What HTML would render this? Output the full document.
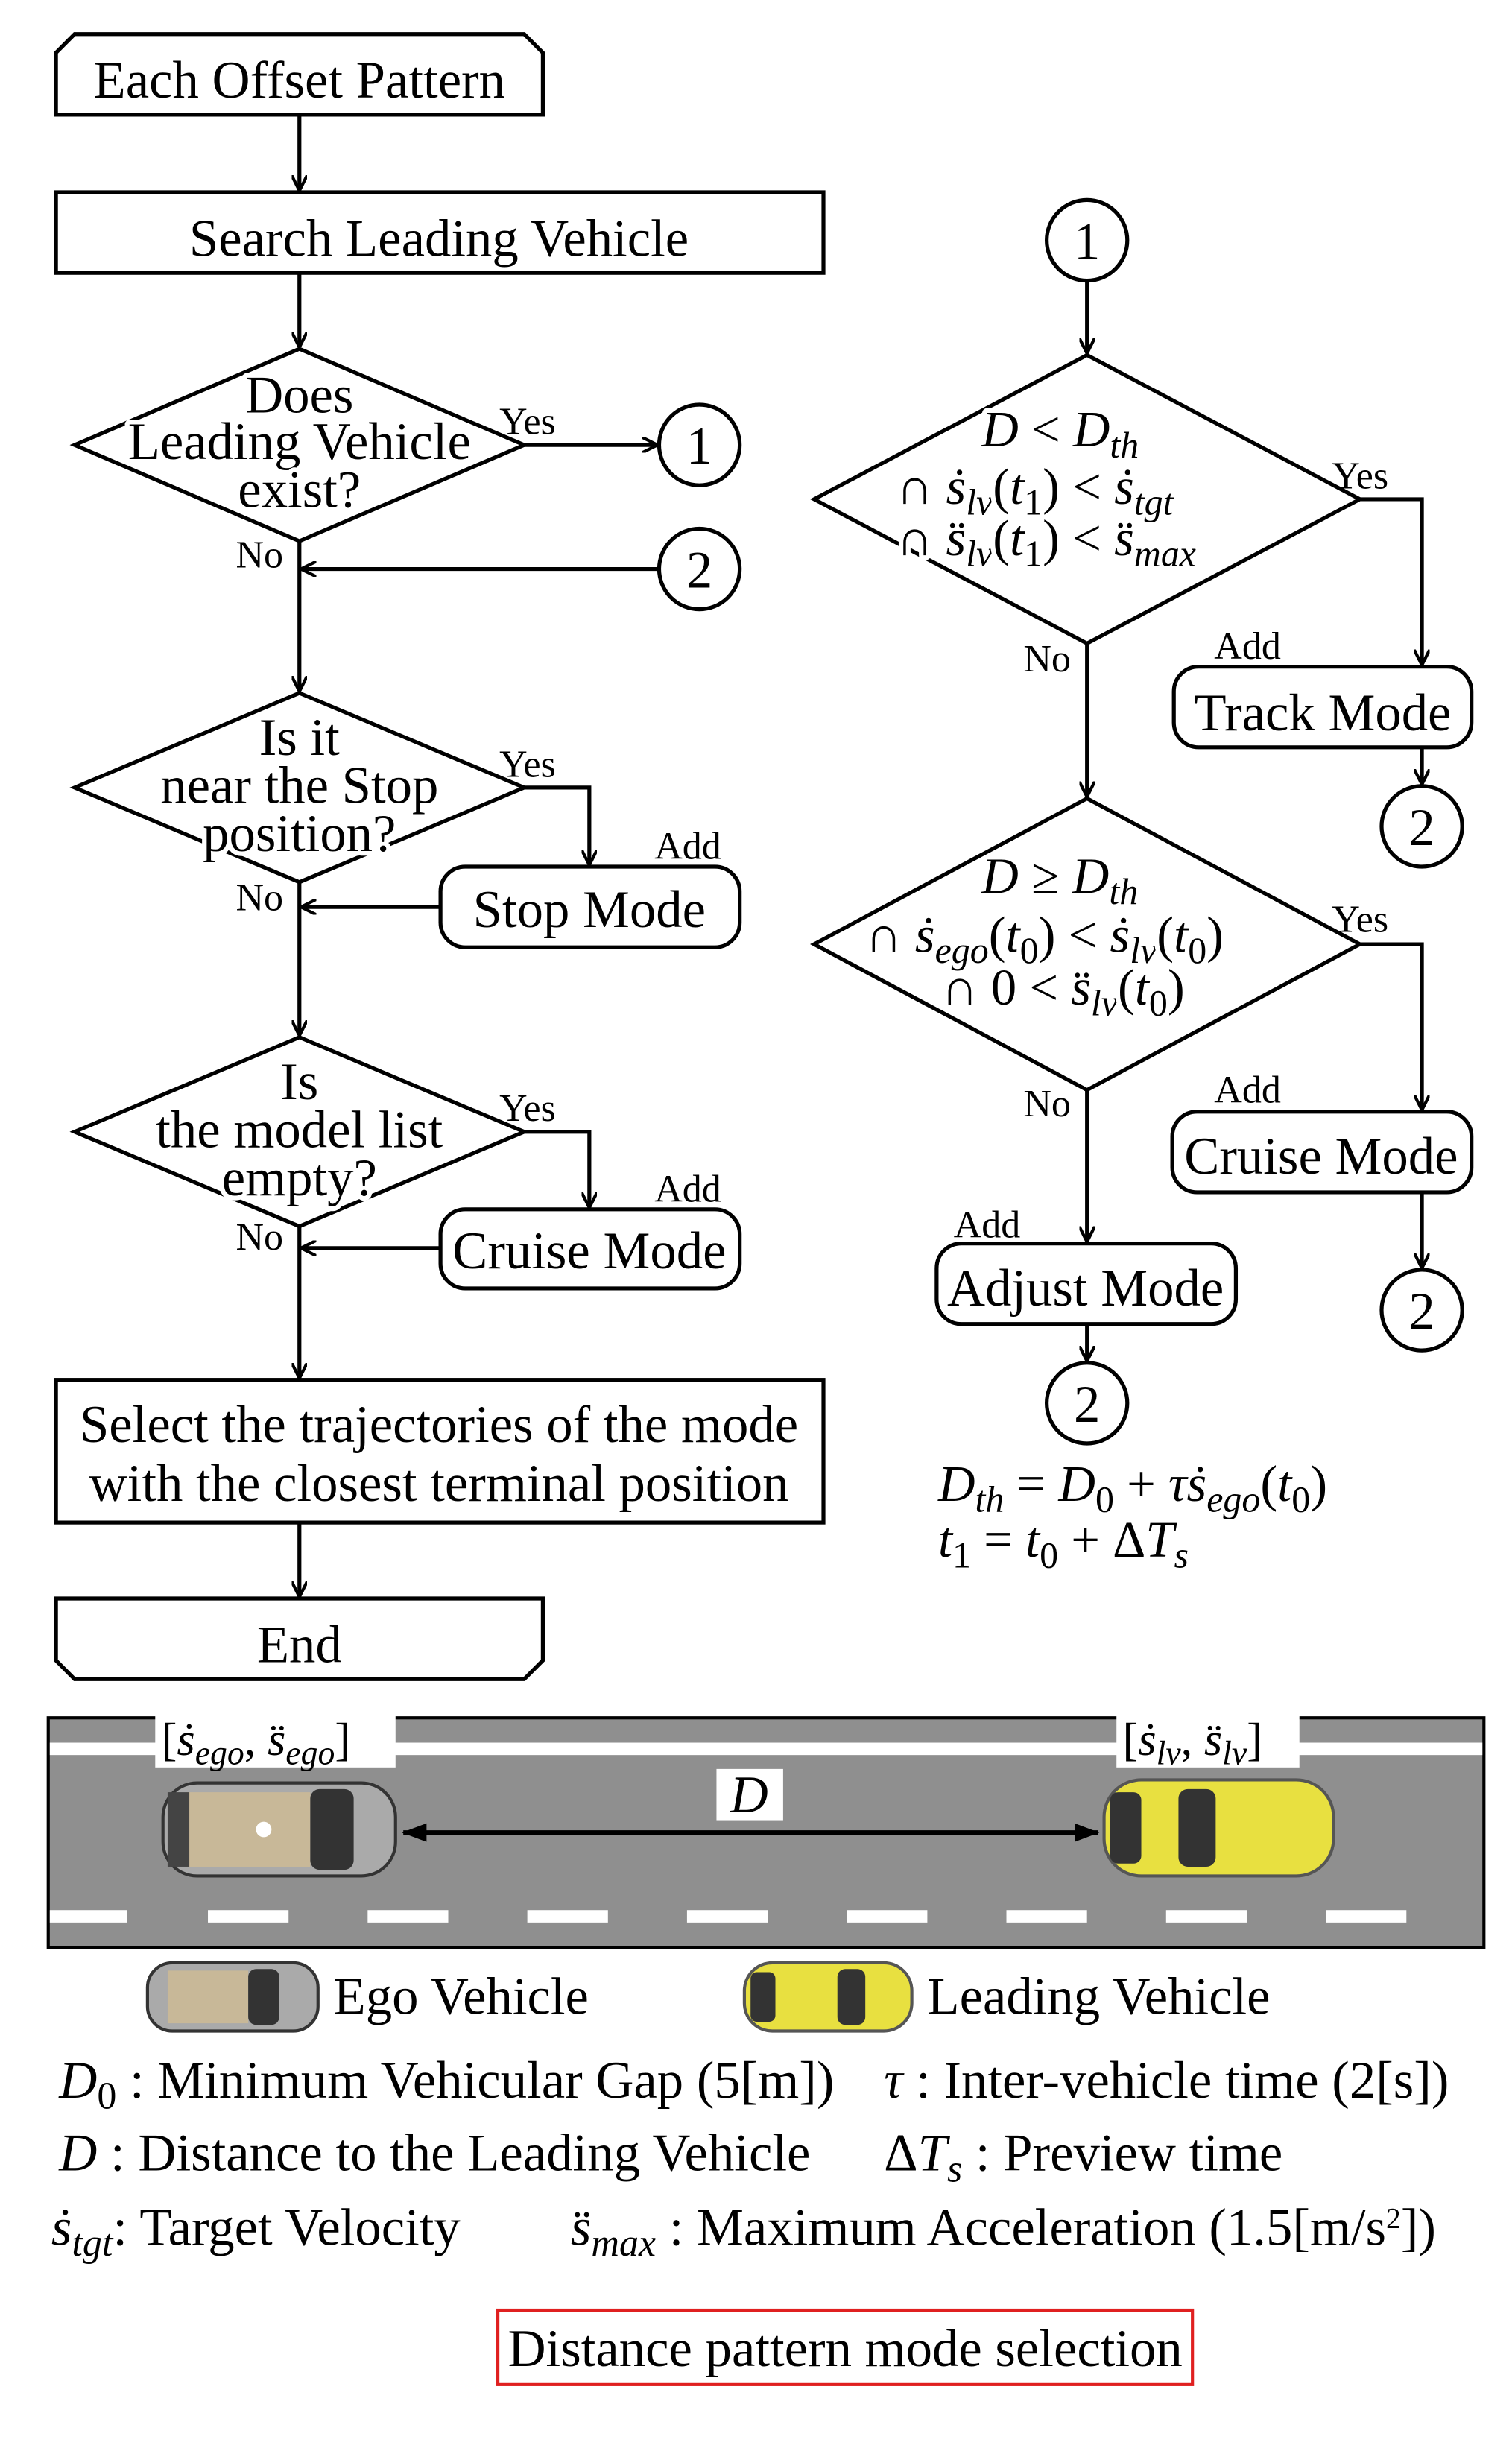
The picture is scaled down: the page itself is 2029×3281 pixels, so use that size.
<!DOCTYPE html>
<html><head><meta charset="utf-8"><style>
html,body{margin:0;padding:0;background:#fff}
svg{display:block}
text{font-family:"Liberation Serif",serif;fill:#000}
.t{font-size:34px;text-anchor:middle}
.s{font-size:25px}
.m{font-style:italic}
.h{paint-order:stroke;stroke:#fff;stroke-width:6px;stroke-linejoin:round}
</style></head><body>
<svg width="2029" height="3281" viewBox="0 0 975 1577" xmlns="http://www.w3.org/2000/svg">
<defs><marker id="a" markerWidth="10" markerHeight="10" refX="9" refY="5" orient="auto" markerUnits="userSpaceOnUse" viewBox="0 0 10 10"><path d="M0,0 L10,5 L0,10" fill="none" stroke="#000" stroke-width="2"/></marker>
<marker id="b" markerWidth="16" markerHeight="12" refX="15" refY="6" orient="auto-start-reverse" markerUnits="userSpaceOnUse"><path d="M0,0 L16,6 L0,12 z" fill="#000"/></marker></defs>
<g fill="none" stroke="#000" stroke-width="2.5">
<path d="M48,22 H338 L350,34 V74 H36 V34 Z" fill="#fff"/>
<rect x="36" y="124" width="495" height="52"/>
<path d="M193,225 L338,287 L193,349 L48,287 Z"/>
<path d="M193,447 L338,508 L193,569 L48,508 Z"/>
<path d="M193,669 L338,730 L193,791 L48,730 Z"/>
<rect x="284" y="559" width="193" height="52" rx="16"/>
<rect x="284" y="780" width="193" height="51" rx="16"/>
<rect x="36" y="890" width="495" height="92"/>
<path d="M36,1031 H350 V1071 L338,1083 H48 L36,1071 Z"/>
<circle cx="451" cy="287" r="26"/><circle cx="451" cy="367" r="26"/>
<circle cx="701" cy="155" r="26"/>
<path d="M701,229 L877,322 L701,415 L525,322 Z"/>
<path d="M701,515 L877,609 L701,703 L525,609 Z"/>
<rect x="757" y="430" width="192" height="52" rx="16"/>
<rect x="756" y="717" width="193" height="52" rx="16"/>
<rect x="604" y="802" width="193" height="52" rx="16"/>
<circle cx="917" cy="533" r="26"/><circle cx="917" cy="845" r="26"/><circle cx="701" cy="905" r="26"/>
</g>
<g fill="none" stroke="#000" stroke-width="2.5" marker-end="url(#a)">
<path d="M193,74 V122"/><path d="M193,176 V223"/>
<path d="M338,287 H423"/><path d="M193,349 V445"/><path d="M425,367 H195"/>
<path d="M338,508 H380 V557"/><path d="M284,585 H195"/><path d="M193,569 V667"/>
<path d="M338,730 H380 V778"/><path d="M284,805 H195"/><path d="M193,791 V888"/>
<path d="M193,982 V1029"/>
<path d="M701,181 V227"/><path d="M877,322 H917 V428"/><path d="M917,482 V505"/>
<path d="M701,415 V513"/><path d="M877,609 H917 V715"/><path d="M917,769 V817"/>
<path d="M701,703 V800"/><path d="M701,854 V877"/>
</g>
<text class="t" x="193" y="63">Each Offset Pattern</text>
<text class="t" x="283" y="165">Search Leading Vehicle</text>
<g class="h">
<text class="t" x="193" y="266">Does</text><text class="t" x="193" y="296">Leading Vehicle</text><text class="t" x="193" y="327">exist?</text>
<text class="t" x="193" y="487">Is it</text><text class="t" x="193" y="518">near the Stop</text><text class="t" x="193" y="549">position?</text>
<text class="t" x="193" y="709">Is</text><text class="t" x="193" y="740">the model list</text><text class="t" x="193" y="771">empty?</text>
</g>
<text class="t" x="451" y="299">1</text><text class="t" x="451" y="379">2</text>
<text class="t" x="380" y="598">Stop Mode</text><text class="t" x="380" y="818">Cruise Mode</text>
<text class="t" x="283" y="930">Select the trajectories of the mode</text>
<text class="t" x="283" y="968">with the closest terminal position</text>
<text class="t" x="193" y="1072">End</text>
<g class="s">
<text x="322" y="280">Yes</text><text x="152" y="366">No</text>
<text x="322" y="501">Yes</text><text x="152" y="587">No</text><text x="422" y="554">Add</text>
<text x="322" y="723">Yes</text><text x="152" y="806">No</text><text x="422" y="775">Add</text>
<text x="859" y="315">Yes</text><text x="660" y="433">No</text><text x="783" y="425">Add</text>
<text x="859" y="601">Yes</text><text x="660" y="720">No</text><text x="783" y="711">Add</text>
<text x="615" y="798">Add</text>
</g>
<text class="t" x="701" y="167">1</text>
<text class="t" x="917" y="545">2</text><text class="t" x="917" y="857">2</text><text class="t" x="701" y="917">2</text>
<text class="t" x="853" y="471">Track Mode</text>
<text class="t" x="852" y="757">Cruise Mode</text>
<text class="t" x="700" y="842">Adjust Mode</text>
<g style="font-size:33px" class="h">
<text x="633" y="288"><tspan class="m">D</tspan> &lt; <tspan class="m">D</tspan><tspan class="m" font-size="24" dy="7">th</tspan></text>
<text x="578" y="325">∩ <tspan class="m">ṡ</tspan><tspan class="m" font-size="24" dy="7">lv</tspan><tspan dy="-7">(</tspan><tspan class="m">t</tspan><tspan font-size="24" dy="7">1</tspan><tspan dy="-7">) &lt; </tspan><tspan class="m">ṡ</tspan><tspan class="m" font-size="24" dy="7">tgt</tspan></text>
<text x="578" y="358">∩ <tspan class="m">s̈</tspan><tspan class="m" font-size="24" dy="7">lv</tspan><tspan dy="-7">(</tspan><tspan class="m">t</tspan><tspan font-size="24" dy="7">1</tspan><tspan dy="-7">) &lt; </tspan><tspan class="m">s̈</tspan><tspan class="m" font-size="24" dy="7">max</tspan></text>
<text x="633" y="576"><tspan class="m">D</tspan> ≥ <tspan class="m">D</tspan><tspan class="m" font-size="24" dy="7">th</tspan></text>
<text x="558" y="614">∩ <tspan class="m">ṡ</tspan><tspan class="m" font-size="24" dy="7">ego</tspan><tspan dy="-7">(</tspan><tspan class="m">t</tspan><tspan font-size="24" dy="7">0</tspan><tspan dy="-7">) &lt; </tspan><tspan class="m">ṡ</tspan><tspan class="m" font-size="24" dy="7">lv</tspan><tspan dy="-7">(</tspan><tspan class="m">t</tspan><tspan font-size="24" dy="7">0</tspan><tspan dy="-7">)</tspan></text>
<text x="607" y="648">∩ 0 &lt; <tspan class="m">s̈</tspan><tspan class="m" font-size="24" dy="7">lv</tspan><tspan dy="-7">(</tspan><tspan class="m">t</tspan><tspan font-size="24" dy="7">0</tspan><tspan dy="-7">)</tspan></text>
</g>
<g style="font-size:33px">
<text x="605" y="968"><tspan class="m">D</tspan><tspan class="m" font-size="24" dy="7">th</tspan><tspan dy="-7">  = </tspan><tspan class="m">D</tspan><tspan font-size="24" dy="7">0</tspan><tspan dy="-7"> + </tspan><tspan class="m">τṡ</tspan><tspan class="m" font-size="24" dy="7">ego</tspan><tspan dy="-7">(</tspan><tspan class="m">t</tspan><tspan font-size="24" dy="7">0</tspan><tspan dy="-7">)</tspan></text>
<text x="605" y="1004"><tspan class="m">t</tspan><tspan font-size="24" dy="7">1</tspan><tspan dy="-7"> = </tspan><tspan class="m">t</tspan><tspan font-size="24" dy="7">0</tspan><tspan dy="-7"> + Δ</tspan><tspan class="m">T</tspan><tspan class="m" font-size="24" dy="7">s</tspan></text>
</g>
<!-- road -->
<rect x="31" y="1108" width="926" height="148" fill="#8f8f8f" stroke="#000" stroke-width="2"/>
<rect x="32" y="1124" width="924" height="8" fill="#fff"/>
<g fill="#fff">
<rect x="32" y="1232" width="50" height="8"/><rect x="134" y="1232" width="52" height="8"/><rect x="237" y="1232" width="52" height="8"/><rect x="340" y="1232" width="52" height="8"/><rect x="443" y="1232" width="52" height="8"/><rect x="546" y="1232" width="52" height="8"/><rect x="649" y="1232" width="52" height="8"/><rect x="752" y="1232" width="52" height="8"/><rect x="855" y="1232" width="52" height="8"/>
</g>
<rect x="100" y="1106" width="155" height="34" fill="#fff"/>
<text x="104" y="1132" style="font-size:30px">[<tspan class="m">ṡ</tspan><tspan class="m" font-size="22" dy="6">ego</tspan><tspan dy="-6">, </tspan><tspan class="m">s̈</tspan><tspan class="m" font-size="22" dy="6">ego</tspan><tspan dy="-6">]</tspan></text>
<rect x="720" y="1106" width="118" height="34" fill="#fff"/>
<text x="724" y="1132" style="font-size:30px">[<tspan class="m">ṡ</tspan><tspan class="m" font-size="22" dy="6">lv</tspan><tspan dy="-6">, </tspan><tspan class="m">s̈</tspan><tspan class="m" font-size="22" dy="6">lv</tspan><tspan dy="-6">]</tspan></text>
<rect x="462" y="1141" width="43" height="33" fill="#fff"/>
<text x="483" y="1169" class="t m">D</text>
<path d="M260,1182 H708" stroke="#000" stroke-width="3" marker-start="url(#b)" marker-end="url(#b)"/>
<g>
<rect x="105" y="1150" width="150" height="60" rx="22" fill="#aaa" stroke="#333" stroke-width="2"/>
<rect x="120" y="1156" width="80" height="48" fill="#c8b898"/>
<rect x="200" y="1154" width="28" height="52" rx="6" fill="#333"/>
<rect x="108" y="1156" width="14" height="48" fill="#444"/>
<circle cx="170" cy="1180" r="5" fill="#fff"/>
</g>
<g>
<rect x="712" y="1148" width="148" height="62" rx="24" fill="#e8e040" stroke="#555" stroke-width="2"/>
<rect x="760" y="1154" width="24" height="50" rx="6" fill="#333"/>
<rect x="716" y="1156" width="20" height="46" rx="5" fill="#333"/>
</g>
<rect x="95" y="1266" width="110" height="44" rx="16" fill="#aaa" stroke="#333" stroke-width="2"/>
<rect x="108" y="1271" width="52" height="34" fill="#c8b898"/>
<rect x="160" y="1270" width="20" height="36" rx="5" fill="#333"/>
<rect x="480" y="1266" width="108" height="44" rx="18" fill="#e8e040" stroke="#555" stroke-width="2"/>
<rect x="484" y="1272" width="16" height="32" rx="4" fill="#333"/><rect x="540" y="1270" width="18" height="36" rx="5" fill="#333"/>
<g style="font-size:34px">
<text x="215" y="1299">Ego Vehicle</text>
<text x="598" y="1299">Leading Vehicle</text>
<text x="38" y="1353"><tspan class="m">D</tspan><tspan font-size="25" dy="7">0</tspan><tspan dy="-7"> : Minimum Vehicular Gap (5[m])</tspan></text>
<text x="570" y="1353"><tspan class="m">τ</tspan> : Inter-vehicle time (2[s])</text>
<text x="38" y="1400"><tspan class="m">D</tspan>  : Distance to the Leading Vehicle</text>
<text x="570" y="1400">Δ<tspan class="m">T</tspan><tspan class="m" font-size="25" dy="7">s</tspan><tspan dy="-7"> : Preview time</tspan></text>
<text x="33" y="1448"><tspan class="m">ṡ</tspan><tspan class="m" font-size="25" dy="7">tgt</tspan><tspan dy="-7">: Target Velocity</tspan></text>
<text x="368" y="1448"><tspan class="m">s̈</tspan><tspan class="m" font-size="25" dy="7">max</tspan><tspan dy="-7"> : Maximum Acceleration (1.5[m/s</tspan><tspan font-size="19" dy="-11">2</tspan><tspan dy="11">])</tspan></text>
</g>
<rect x="321" y="1490" width="448" height="48" fill="none" stroke="#e02020" stroke-width="2"/>
<text class="t" x="545" y="1526">Distance pattern mode selection</text>
</svg>
</body></html>
